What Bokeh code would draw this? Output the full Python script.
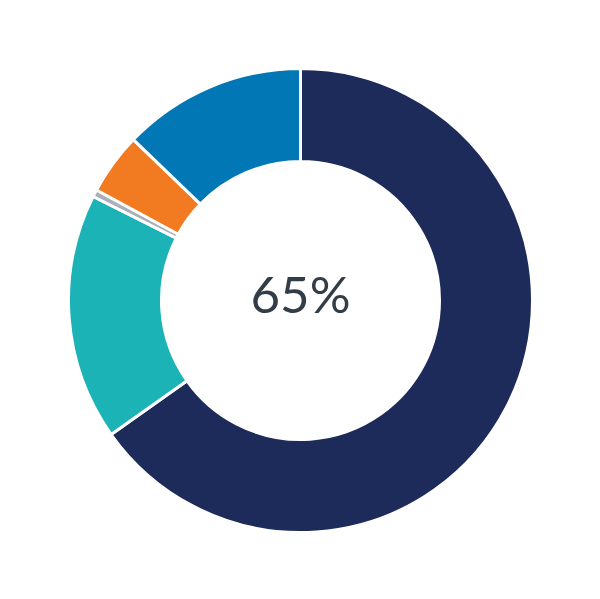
import math
from bokeh.plotting import figure
from bokeh.models import ColumnDataSource, Range1d
from bokeh.core.properties import value
from bokeh.embed import file_html
from bokeh.resources import INLINE

categories = ["Navy", "Teal", "Gray", "Orange", "Blue"]
values = [65.2, 17.2, 0.5, 4.3, 12.8]
colors = ["#1c2b5a", "#1bb3b6", "#a9b0bc", "#f27b21", "#0177b5"]
center_label = "65%"

W, H = 584, 583
cx, cy = 300, H - 300
total = sum(values)
starts, ends = [], []
acc = 0.0
for v in values:
    starts.append(math.pi / 2 - acc / total * 2 * math.pi)
    acc += v
    ends.append(math.pi / 2 - acc / total * 2 * math.pi)

src = ColumnDataSource(dict(cat=categories, val=values, color=colors,
                            start=starts, end=ends,
                            x=[cx] * len(values), y=[cy] * len(values)))

p = figure(width=W, height=H, output_backend="svg", toolbar_location=None,
           x_range=Range1d(0, W), y_range=Range1d(0, H), min_border=0,
           outline_line_color=None)
p.axis.visible = False
p.grid.visible = False
p.background_fill_color = "white"
p.border_fill_color = "white"

p.annular_wedge(x="x", y="y", inner_radius=139, outer_radius=232,
                start_angle="start", end_angle="end", direction="clock",
                fill_color="color", line_color="white", line_width=3, source=src)

p.text(x=[cx], y=[cy + 7], text=[center_label], text_align="center",
       text_baseline="middle", text_font=value("Lato"), text_font_size="51px",
       text_color="#333d47")

open("out.html", "w").write(file_html(p, INLINE))
